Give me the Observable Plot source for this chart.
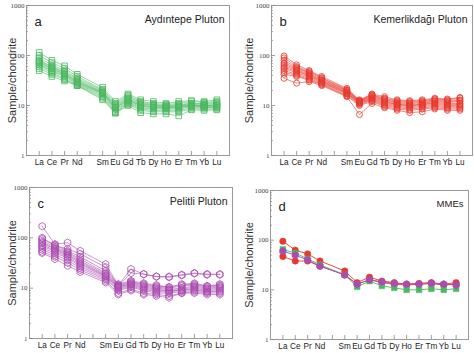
<!DOCTYPE html>
<html><head><meta charset="utf-8">
<script src="https://cdn.jsdelivr.net/npm/d3@7"></script>
<script src="https://cdn.jsdelivr.net/npm/@observablehq/plot@0.6"></script>
<style>
body{margin:0;background:#fff;}
#wrap{position:relative;width:474px;height:353px;overflow:hidden;background:#fff;}
.p{position:absolute;}
.p svg{overflow:visible;}
</style></head><body><div id="wrap"></div>
<script>
// x-axis categories (Pm slot has a tick but no label)
const elements = ["La","Ce","Pr","Nd","Pm","Sm","Eu","Gd","Tb","Dy","Ho","Er","Tm","Yb","Lu"];
const ree = ["La","Ce","Pr","Nd","Sm","Eu","Gd","Tb","Dy","Ho","Er","Tm","Yb","Lu"];
const yTicks = [1, 10, 100, 1000];

// Panel a — Aydıntepe Pluton
const aydintepe = [
  [115, 80, 62, 42, 23, 12, 17, 13, 12, 11, 12, 12.5, 12, 13],
  [100, 72, 55, 38, 21, 11, 16, 12, 11, 10.5, 11, 12, 11.5, 12],
  [90, 65, 50, 35, 20, 10.5, 15, 11.5, 10.5, 10, 10.5, 11, 11, 11.5],
  [82, 60, 47, 33, 19, 10, 14, 11, 10, 9.8, 10, 11, 10.5, 11],
  [78, 58, 45, 31, 18.5, 9.5, 13.5, 10.5, 10, 9.5, 9.8, 10.5, 10, 10.5],
  [75, 55, 43, 30, 18, 9, 13, 10, 9.5, 9.2, 9.5, 10.2, 10, 10],
  [72, 53, 42, 29, 17.5, 9, 12.5, 10, 9.2, 9, 9.2, 10, 9.8, 10],
  [68, 50, 40, 28, 17, 8.5, 12, 9.5, 9, 8.8, 9, 9.8, 9.5, 9.5],
  [65, 48, 38, 27, 16, 8, 11.5, 9, 8.5, 8.5, 8.5, 9.5, 9.2, 9.2],
  [60, 45, 35, 26, 15, 7.5, 11, 8.5, 8, 8, 8, 9, 9, 9],
  [55, 42, 33, 25, 14, 7.2, 10.5, 8, 7.5, 7.5, 7.5, 8.5, 8.5, 8.5],
  [50, 38, 31, 25, 13, 7, 10, 7.2, 6.8, 6.8, 6.2, 8.2, 8, 8.2]
];

// Panel b — Kemerlikdağı Pluton
const kemerlikdagi = [
  [98, 65, 50, 38, 22, 13, 17, 15, 13, 12.5, 13, 14, 13.5, 14.5],
  [90, 60, 48, 36, 21, 12.5, 16.5, 14, 12.5, 12, 12.5, 13.5, 13, 14],
  [80, 57, 46, 35, 20, 12.5, 16, 13.5, 12, 11.5, 12, 13, 12.5, 13],
  [72, 55, 44, 33, 20, 12, 15.5, 13, 11.5, 11, 11.5, 12.5, 12, 12.5],
  [68, 52, 42, 32, 19, 12, 15, 12.5, 11, 10.5, 11, 12, 11.5, 12],
  [63, 50, 40, 31, 18.5, 11.5, 14.5, 12, 10.5, 10, 10.5, 11.5, 11, 11],
  [58, 48, 39, 30, 18, 11.5, 14, 11.5, 10.5, 10, 10.5, 11, 10.5, 10.5],
  [55, 45, 37, 29, 17.5, 11, 13.5, 11, 10, 9.5, 10, 10.5, 10, 10],
  [50, 42, 35, 28, 17, 11, 13, 10.5, 9.5, 9, 9.5, 10, 9.5, 9.5],
  [46, 40, 33, 27, 16, 10.5, 12.5, 10, 9, 8.5, 9, 9.5, 9, 9],
  [42, 38, 32, 26, 15.5, 10, 12, 9.5, 8.5, 8, 8.5, 9, 8.5, 8.5],
  [35, 28, 30, 25, 15, 6.6, 11, 9, 8, 7.2, 7.5, 8.5, 8, 8]
];

// Panel c — Pelitli Pluton
const pelitli = [
  [170, 75, 80, 55, 30, 11.5, 24, 19, 17, 17, 18.5, 20, 19, 19],
  [100, 70, 60, 48, 26, 11, 20, 19, 17, 16.5, 18, 19.5, 18.5, 18.5],
  [95, 72, 55, 42, 22, 12, 14, 12.5, 11.5, 10.5, 12, 12.5, 11, 12],
  [88, 66, 52, 38, 20, 11.5, 13.5, 12, 11, 10.5, 11.5, 12, 11, 11.5],
  [82, 62, 50, 35, 19, 11, 13, 11.5, 10.5, 10, 11, 11.5, 10.5, 11],
  [78, 60, 47, 33, 18, 10.5, 12.5, 11, 10, 9.5, 10, 11, 10, 10.5],
  [72, 57, 45, 31, 17.5, 10.5, 12, 10.5, 9.5, 9, 9.5, 10.5, 9.5, 10],
  [68, 54, 42, 29, 17, 10, 11.5, 10, 9, 9, 9, 10, 9, 9.5],
  [63, 50, 40, 27, 16, 9.5, 11, 9.5, 8.5, 8.5, 9, 9.5, 8.5, 9],
  [58, 46, 36, 25, 15, 9, 10.5, 9, 8, 8, 8.5, 9, 8.5, 8.5],
  [53, 42, 32, 23, 14, 8, 9.5, 8, 7.5, 7, 8, 8.5, 8, 8],
  [50, 38, 28, 21, 13, 7.5, 9, 7.5, 7, 6.5, 8, 8, 7.5, 7.5]
];

// Panel d — MMEs
const mmeRed1   = [95, 63, 53, 38, 24, 14, 18, 15, 14, 13, 13.5, 14, 13, 14];
const mmeRed2   = [47, 38, 38, 30, 20, 13, 16, 14, 13, 12.5, 13, 13.5, 12.5, 13];
const mmeGreen  = [65, 55, 42, 32, 20, 11.5, 15, 12, 11, 10, 10, 10.5, 10, 10.5];
const mmePurple = [60, 50, 40, 30, 20, 13, 16, 14.5, 13.5, 13, 13, 13.5, 13, 12.5];

const GREEN = "#4db862", RED = "#e6392f", PURPLE = "#a94daf";

function rows(samples, extra = {}) {
  const out = [];
  samples.forEach((s, i) => s.forEach((v, j) => out.push({sample: i, el: ree[j], x: elements.indexOf(ree[j]) + 1, v, ...extra})));
  return out;
}

function panel({left, top, width, height, m, letter, title, titleSize = 10.5, marks}) {
  const pw = width - m.l - m.r, ph = height - m.t - m.b;
  const minor = [];
  for (const d of [1, 10, 100]) for (let k = 2; k <= 9; k++) minor.push(d * k);
  const chart = Plot.plot({
    width, height,
    marginLeft: m.l, marginRight: m.r, marginTop: m.t, marginBottom: m.b,
    style: {fontFamily: "'Liberation Sans', Arial, sans-serif", background: "transparent", overflow: "visible"},
    x: {domain: [0, 16], axis: null},
    y: {type: "log", domain: [1, 1000], axis: null},
    marks: [
      Plot.frame({stroke: "#9a9a9a", strokeWidth: 1}),
      Plot.tickY(minor, {y: d => d, insetRight: pw - 2, stroke: "#888", strokeWidth: 0.7}),
      Plot.tickY(yTicks, {y: d => d, insetRight: pw - 4, stroke: "#888", strokeWidth: 0.8}),
      Plot.tickX(d3.range(1, 16), {x: d => d, insetTop: ph - 4, stroke: "#888", strokeWidth: 0.8}),
      Plot.axisX({ticks: d3.range(1, 16), tickFormat: i => i === 5 ? "" : elements[i - 1], tickSize: 0, tickPadding: 4, fontSize: 8.2, fill: "#222", label: null}),
      Plot.axisY({ticks: yTicks, tickFormat: d => String(d), tickSize: 0, tickPadding: 2, fontSize: 7, fontFamily: "'Liberation Serif', 'Times New Roman', serif", fill: "#444", label: null}),
      Plot.text(["Sample/chondrite"], {frameAnchor: "left", textAnchor: "middle", rotate: -90, dx: -(m.l - 12), fontSize: 11, fill: "#333"}),
      ...marks,
      Plot.text([letter], {frameAnchor: "top-left", dx: 8, dy: 11, fontSize: 13, fill: "#222"}),
      Plot.text([title], {frameAnchor: "top-right", dx: -5, dy: 10, textAnchor: "end", fontSize: titleSize, fill: "#222"})
    ]
  });
  const div = document.createElement("div");
  div.className = "p";
  div.style.left = left + "px";
  div.style.top = top + "px";
  div.appendChild(chart);
  document.getElementById("wrap").appendChild(div);
}

function openSeries(samples, color, symbol, r) {
  const data = rows(samples);
  return [
    Plot.line(data, {x: "x", y: "v", z: "sample", stroke: color, strokeWidth: 0.7, strokeOpacity: 0.85}),
    Plot.dot(data, {x: "x", y: "v", symbol, r, stroke: color, strokeWidth: 0.8, fill: "none"})
  ];
}

panel({left: 0, top: 0, width: 237, height: 176, m: {l: 26, r: 8, t: 5, b: 21}, letter: "a", title: "Aydıntepe Pluton",
  marks: openSeries(aydintepe, GREEN, "square", 3.2)});
panel({left: 237, top: 0, width: 237, height: 176, m: {l: 34, r: 2, t: 5, b: 21}, letter: "b", title: "Kemerlikdağı Pluton",
  marks: openSeries(kemerlikdagi, RED, "circle", 3)});
panel({left: 0, top: 176, width: 237, height: 177, m: {l: 29, r: 5, t: 11, b: 15}, letter: "c", title: "Pelitli Pluton",
  marks: openSeries(pelitli, PURPLE, "hexagon", 3.2)});

const mmeData = [
  ...rows([mmeRed1], {series: "red1", color: RED, symbol: "circle"}),
  ...rows([mmeRed2], {series: "red2", color: RED, symbol: "circle"}),
  ...rows([mmeGreen], {series: "green", color: GREEN, symbol: "square"}),
  ...rows([mmePurple], {series: "purple", color: PURPLE, symbol: "hexagon"})
];
panel({left: 237, top: 176, width: 237, height: 177, m: {l: 33, r: 6, t: 14, b: 14}, letter: "d", title: "MMEs", titleSize: 9.5,
  marks: [
    Plot.line(mmeData, {x: "x", y: "v", z: "series", stroke: d => d.color, strokeWidth: 0.9}),
    Plot.dot(mmeData, {x: "x", y: "v", symbol: d => d.symbol, r: 3.2, fill: d => d.color, stroke: d => d.color, strokeWidth: 0.5})
  ]});
</script>
</body></html>
